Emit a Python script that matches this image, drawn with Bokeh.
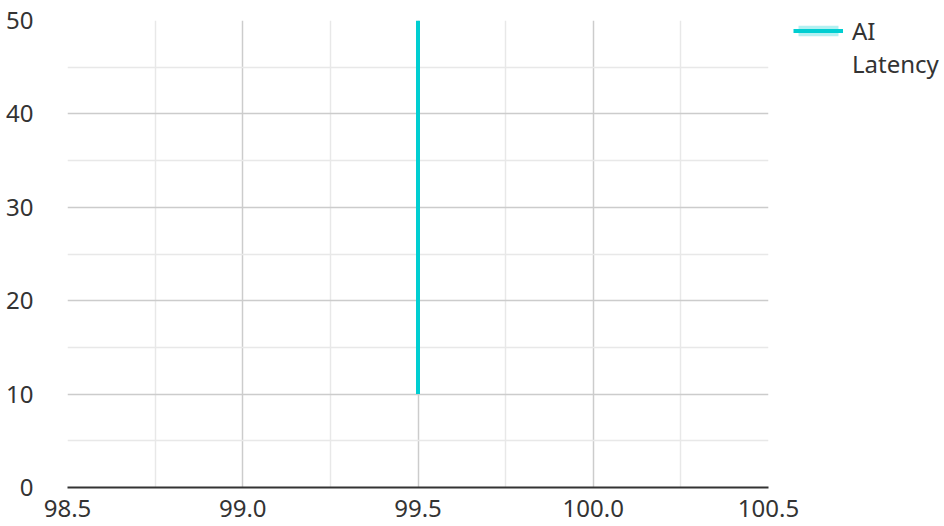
from bokeh.plotting import figure
from bokeh.models import (Range1d, FixedTicker, Legend, LegendItem,
                          CustomJSTickFormatter)
from bokeh.embed import file_html
from bokeh.resources import INLINE

series_name = ["AI", "Latency"]
x_vals = [99.5, 99.5]
y_vals = [10, 50]
x_ticks = [98.5, 99.0, 99.5, 100.0, 100.5]
x_minor = [98.75, 99.25, 99.75, 100.25]
y_ticks = [0, 10, 20, 30, 40, 50]
y_minor = [5, 15, 25, 35, 45]

FONT = "Noto Sans"
LINE_COLOR = "#00CED1"

p = figure(output_backend="svg", toolbar_location=None,
           frame_width=701, frame_height=467,
           min_border_left=67, min_border_top=20, min_border_bottom=0,
           min_border_right=0,
           x_range=Range1d(98.5, 100.5), y_range=Range1d(0, 50))
p.outline_line_color = None
p.background_fill_color = "white"
p.border_fill_color = "white"

fill = p.varea(x=x_vals, y1=[0, 0], y2=y_vals, fill_color=LINE_COLOR, fill_alpha=0.3)
ln = p.line(x=x_vals, y=y_vals, line_color=LINE_COLOR, line_width=4)
# invisible helper used for the legend row that carries no icon
blank = p.line(x=[], y=[], line_alpha=0)

for ax in (p.xaxis[0], p.yaxis[0]):
    ax.major_tick_line_color = None
    ax.minor_tick_line_color = None
    ax.major_label_text_font = FONT
    ax.major_label_text_font_size = "24px"
    ax.major_label_text_color = "#333333"

p.xaxis[0].ticker = FixedTicker(ticks=x_ticks, minor_ticks=x_minor)
p.yaxis[0].ticker = FixedTicker(ticks=y_ticks, minor_ticks=y_minor)
p.xaxis[0].axis_line_color = "#333333"
p.xaxis[0].axis_line_width = 2
p.xaxis[0].major_label_standoff = 6
p.yaxis[0].axis_line_color = None
p.yaxis[0].major_label_standoff = 28
p.xaxis[0].formatter = CustomJSTickFormatter(code="return tick.toFixed(1);")

for g in (p.xgrid[0], p.ygrid[0]):
    g.grid_line_color = "#cccccc"
    g.grid_line_width = 1.5
    g.minor_grid_line_color = "#e8e8e8"
    g.minor_grid_line_width = 1.5

legend = Legend(items=[LegendItem(label=series_name[0], renderers=[fill, ln]),
                       LegendItem(label=series_name[1], renderers=[blank])],
                location=(25, 407), orientation="vertical",
                border_line_color=None, background_fill_alpha=0,
                margin=0, padding=0, spacing=0,
                glyph_width=50, glyph_height=13,
                label_text_font=FONT, label_text_font_size="24px",
                label_text_color="#333333",
                label_standoff=9)
p.add_layout(legend, "right")

open("out.html", "w").write(file_html(p, INLINE))
